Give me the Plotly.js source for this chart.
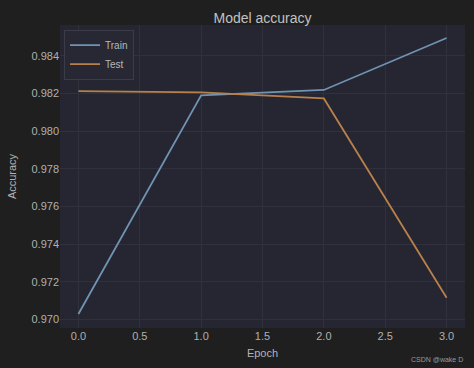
<!DOCTYPE html>
<html><head><meta charset="utf-8">
<script src="https://cdn.plot.ly/plotly-3.0.1.min.js"></script>
<style>html,body{margin:0;padding:0;background:#1f1f1f;}</style>
</head><body><div id="chart" style="width:474px;height:368px;"></div>
<script>
var epochs = [0, 1, 2, 3];
var trainAcc = [0.97028, 0.98189, 0.98218, 0.98494];
var testAcc = [0.98212, 0.98205, 0.98173, 0.97115];
var xTicks = [0, 0.5, 1, 1.5, 2, 2.5, 3];
var xTickText = ['0.0', '0.5', '1.0', '1.5', '2.0', '2.5', '3.0'];
var yTicks = [0.970, 0.972, 0.974, 0.976, 0.978, 0.980, 0.982, 0.984];
var yTickText = ['0.970', '0.972', '0.974', '0.976', '0.978', '0.980', '0.982', '0.984'];

var font = 'Liberation Sans, Arial, sans-serif';
var traces = [
  {x: epochs, y: trainAcc, name: 'Train', mode: 'lines', line: {color: '#7193b3', width: 1.8}},
  {x: epochs, y: testAcc, name: 'Test', mode: 'lines', line: {color: '#b8804a', width: 1.8}}
];
var layout = {
  width: 474, height: 368,
  paper_bgcolor: '#1f1f1f', plot_bgcolor: '#252631',
  margin: {l: 60, r: 9, t: 25, b: 40},
  font: {family: font, color: '#b4b4b4', size: 11},
  title: {text: 'Model accuracy', x: 0.5, xref: 'paper', y: 0.965, yref: 'container', font: {size: 14, color: '#c2c2c2'}},
  xaxis: {range: [-0.15, 3.15], tickvals: xTicks, ticktext: xTickText, showgrid: true, gridcolor: '#30313c', gridwidth: 1,
          zeroline: false, showline: false, ticks: '', ticklen: 0, tickfont: {size: 11, color: '#b0b0b0'},
          title: {text: 'Epoch', font: {size: 11, color: '#b4b4b4'}, standoff: 8}},
  yaxis: {range: [0.96954, 0.98563], tickvals: yTicks, ticktext: yTickText, showgrid: true, gridcolor: '#30313c', gridwidth: 1,
          zeroline: false, showline: false, ticks: '', ticklen: 0, tickfont: {size: 11, color: '#b0b0b0'},
          title: {text: 'Accuracy', font: {size: 11, color: '#b4b4b4'}, standoff: 12}},
  showlegend: true,
  legend: {x: 0.01, y: 0.985, xanchor: 'left', yanchor: 'top', bgcolor: '#272833', bordercolor: '#3b3c46', borderwidth: 1,
           font: {size: 10, color: '#b8b8b8'}, tracegroupgap: 0, itemwidth: 30},
  annotations: [{text: 'CSDN @wake D', xref: 'paper', yref: 'paper', x: 1.0, y: -0.085, xanchor: 'right', yanchor: 'top',
                 showarrow: false, font: {size: 7, color: '#9a9a9a'}}]
};
Plotly.newPlot('chart', traces, layout, {displayModeBar: false, staticPlot: true});
</script></body></html>
